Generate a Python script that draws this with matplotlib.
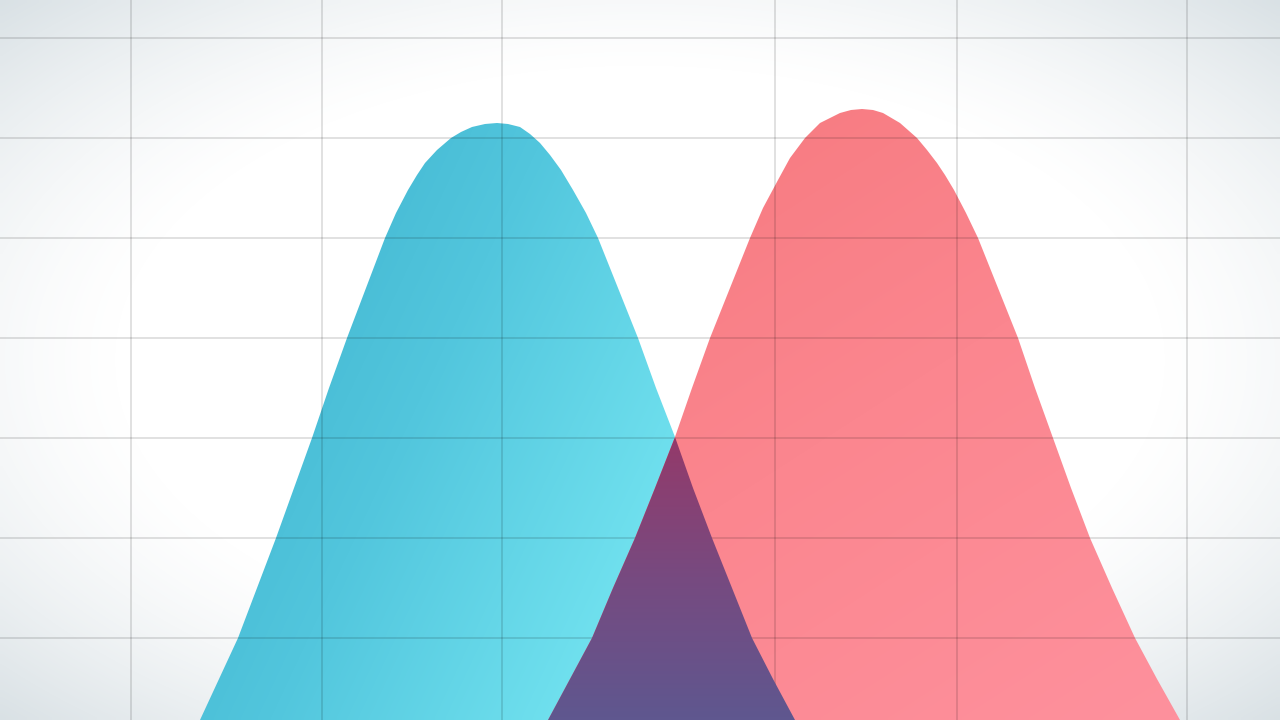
import matplotlib
matplotlib.use("Agg")
import matplotlib.pyplot as plt
import numpy as np
from matplotlib.patches import Polygon
from matplotlib.colors import LinearSegmentedColormap

# --- Values (x position, curve height) ---
BLUE_X = [200, 219, 238, 257, 276, 294, 312, 329, 347, 366, 385, 396, 408,
          417, 425, 437, 451, 461, 472, 485, 497, 508, 520, 530, 540, 550,
          561, 573, 586, 598, 618, 638, 656, 675, 693, 712, 732, 752,
          773, 795]
BLUE_Y = [0, 41, 82, 132, 182, 232, 282, 332, 382, 432, 482, 507, 530,
          545, 557, 570, 582, 588, 593, 596, 597, 596, 593, 586, 577, 565,
          550, 530, 507, 482, 432, 382, 332, 283, 232, 182, 132, 82,
          41, 0]

RED_X = [548, 570, 592, 613, 635, 655, 675, 692, 710, 730, 750, 763, 778,
         790, 805, 820, 840, 851, 862, 873, 883, 900, 917, 927, 937, 945,
         954, 966, 978, 998, 1018, 1035, 1053, 1071, 1090, 1112, 1135, 1157,
         1180]
RED_Y = [0, 41, 82, 132, 182, 232, 283, 332, 382, 432, 482, 512, 540,
         562, 582, 597, 607, 610, 611, 610, 607, 597, 582, 570, 557, 545,
         530, 507, 482, 432, 382, 332, 282, 232, 182, 132, 82, 41, 0]

GRID_X = [131, 322, 502, 775, 957, 1187]
GRID_Y = [82, 182, 282, 382, 482, 582, 682]

W, H = 1280, 720


def gradient_fill(ax, xs, ys, cmap, tfunc, zorder):
    verts = np.column_stack([np.asarray(xs, float), np.asarray(ys, float)])
    patch = Polygon(verts, closed=True, facecolor="none", edgecolor="none")
    ax.add_patch(patch)
    gx, gy = np.meshgrid(np.linspace(0, W, 320), np.linspace(0, H, 180))
    t = np.clip(tfunc(gx, gy), 0, 1)
    im = ax.imshow(t, extent=(0, W, 0, H), origin="lower", cmap=cmap,
                   vmin=0, vmax=1, aspect="auto", zorder=zorder,
                   interpolation="bilinear")
    im.set_clip_path(patch)


fig = plt.figure(figsize=(12.8, 7.2), dpi=100)
ax = fig.add_axes([0, 0, 1, 1])
ax.set_xlim(0, W)
ax.set_ylim(0, H)

# background with soft vignette
gx, gy = np.meshgrid(np.linspace(-1, 1, 256), np.linspace(-1, 1, 144))
r = np.sqrt(gx ** 2 + gy ** 2)
vig = np.zeros((144, 256, 4))
vig[..., 0], vig[..., 1], vig[..., 2] = 0.62, 0.70, 0.74
vig[..., 3] = 0.42 * np.clip((r - 0.8) / 0.65, 0, 1) ** 1.4
ax.imshow(vig, extent=(0, W, 0, H), origin="lower", aspect="auto",
          zorder=0, interpolation="bilinear")

blue_cmap = LinearSegmentedColormap.from_list("b", ["#3aaeca", "#52c6dd", "#76e6f2"])
red_cmap = LinearSegmentedColormap.from_list("r", ["#f6787d", "#fb868f", "#fe919d"])
purple_cmap = LinearSegmentedColormap.from_list("p", ["#943a6a", "#774a80", "#5f578f"])

gradient_fill(ax, BLUE_X, BLUE_Y, blue_cmap,
              lambda x, y: 0.6 * (x - 200) / 420 + 0.4 * (1 - y / 600), 2)
gradient_fill(ax, RED_X, RED_Y, red_cmap,
              lambda x, y: 0.6 * (1 - y / 610) + 0.4 * (x - 548) / 630, 2)

# overlap region: lower of the two curves
ox = np.linspace(RED_X[0], BLUE_X[-1], 300)
oy = np.minimum(np.interp(ox, BLUE_X, BLUE_Y), np.interp(ox, RED_X, RED_Y))
gradient_fill(ax, ox, oy, purple_cmap, lambda x, y: 1 - y / 283, 3)

# grid over everything
ax.set_xticks(GRID_X)
ax.set_yticks(GRID_Y)
ax.grid(True, color="black", alpha=0.12, linewidth=1.4, zorder=5)
ax.set_axisbelow(False)
ax.tick_params(length=0, labelbottom=False, labelleft=False)
for s in ax.spines.values():
    s.set_visible(False)

fig.savefig("out.png", dpi=100)
